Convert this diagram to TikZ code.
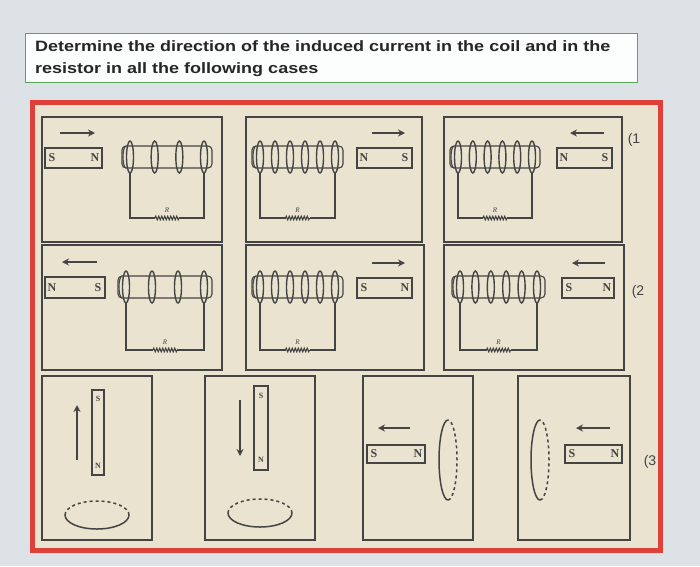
\documentclass[tikz,border=0pt]{standalone}
\usepackage{fontspec}
\setmainfont{Liberation Sans}
\newfontfamily\polefont{Liberation Serif}
\usetikzlibrary{decorations.pathmorphing,arrows.meta}
\definecolor{bg}{HTML}{DCE2E6}
\definecolor{paper}{HTML}{E9E3D0}
\definecolor{ink}{HTML}{444444}
\definecolor{frame}{HTML}{E0403A}
\tikzset{
 panel/.style={draw=ink,line width=1.4pt},
 mag/.style={draw=ink,line width=1.3pt,fill=paper},
 mv/.style={-{Stealth[length=7pt,width=7pt]},line width=2pt,draw=ink},
 wire/.style={draw=ink,line width=1.1pt},
 pole/.style={font=\polefont\bfseries\fontsize{12}{12}\selectfont,text=ink,inner sep=0pt},
 spole/.style={font=\polefont\bfseries\fontsize{8}{8}\selectfont,text=ink,inner sep=0pt},
}
% coil: x1,x2,ytop,ybot,n,ycircuit
\newcommand{\mycoil}[6]{%
 \draw[wire,fill=paper,rounded corners=4pt] (#1,#3) rectangle (#2,#4);
 \draw[wire] (#1+4,#4) arc[start angle=90,end angle=270,x radius=3,y radius={(#4-#3)/2}];
 \pgfmathsetmacro{\dx}{(#2-#1-16)/(#5-1)}
 \foreach \i in {1,...,#5}{
   \pgfmathsetmacro{\xx}{#1+8+(\i-1)*\dx}
   \draw[wire,line width=1.4pt] (\xx,{(#3+#4)/2}) ellipse[x radius=3.5,y radius={(#4-#3)/2+5}];
 }
 \draw[wire] (#1+8,#4+5) -- (#1+8,#6) -- ({(#1+#2)/2-12},#6);
 \draw[wire,decorate,decoration={zigzag,segment length=3pt,amplitude=1.8pt}] ({(#1+#2)/2-12},#6) -- ({(#1+#2)/2+12},#6);
 \draw[wire] ({(#1+#2)/2+12},#6) -- (#2-8,#6) -- (#2-8,#4+5);
 \node[font=\polefont\itshape\fontsize{7}{7}\selectfont,text=ink] at ({(#1+#2)/2},#6-8) {R};
}
% horizontal magnet: x1,x2,y1,y2,left label,right label
\newcommand{\hmag}[6]{%
 \draw[mag] (#1,#3) rectangle (#2,#4);
 \node[pole] at (#1+7,{(#3+#4)/2}) {#5};
 \node[pole] at (#2-7,{(#3+#4)/2}) {#6};
}
\begin{document}
\begin{tikzpicture}[x=1pt,y=-1pt]
\useasboundingbox (0,0) rectangle (700,566);
\fill[bg] (0,0) rectangle (700,566);
\draw[draw=gray!70!green,line width=1pt,fill=white!92!bg] (25,33) rectangle (637,82);
\node[anchor=west,font=\bfseries\fontsize{15}{22}\selectfont,text=black!85,inner sep=0pt] (title) at (35,58)
 {\scalebox{1.2}[1]{\begin{tabular}{@{}l@{}}Determine the direction of the induced current in the coil and in the\\resistor in all the following cases\end{tabular}}};
\draw[draw=frame,line width=5pt,fill=paper] (32,102) rectangle (660,550);
% panels
\foreach \a/\b/\c/\d in {42/117/222/242,246/117/422/242,444/117/622/242,42/245/222/370,246/245/424/370,444/245/624/370,42/376/152/540,205/376/315/540,363/376/473/540,518/376/630/540}
 \draw[panel] (\a,\b) rectangle (\c,\d);
\node[font=\fontsize{14}{14}\selectfont,text=ink] (l1) at (634,140) {(1};
\node[font=\fontsize{14}{14}\selectfont,text=ink] (l2) at (638,292) {(2};
\node[font=\fontsize{14}{14}\selectfont,text=ink] (l3) at (650,462) {(3};
% row 1
\hmag{45}{102}{148}{168}{S}{N}
\draw[mv] (60,133) -- (95,133);
\mycoil{122}{212}{146}{168}{4}{218}
\mycoil{252}{343}{146}{168}{6}{218}
\hmag{357}{412}{148}{168}{N}{S}
\draw[mv] (372,133) -- (405,133);
\mycoil{450}{540}{146}{168}{6}{218}
\hmag{557}{612}{148}{168}{N}{S}
\draw[mv] (604,133) -- (570,133);
% row 2
\hmag{45}{105}{277}{298}{N}{S}
\draw[mv] (97,262) -- (62,262);
\mycoil{118}{212}{276}{298}{4}{350}
\mycoil{252}{343}{276}{298}{6}{350}
\hmag{357}{412}{278}{298}{S}{N}
\draw[mv] (372,263) -- (405,263);
\mycoil{452}{545}{276}{298}{6}{350}
\hmag{562}{614}{278}{298}{S}{N}
\draw[mv] (605,263) -- (572,263);
% row 3
\draw[mag] (92,390) rectangle (104,475);
\node[spole] at (98,399) {S};
\node[spole] at (98,466) {N};
\draw[mv,line width=1.2pt] (77,460) -- (77,405);
\draw[wire,line width=1.5pt] (65,515) arc[start angle=180,end angle=0,x radius=32,y radius=14];
\draw[wire,line width=1.5pt,dashed] (65,515) arc[start angle=180,end angle=360,x radius=32,y radius=14];
\draw[mag] (254,386) rectangle (268,470);
\node[spole] at (261,396) {S};
\node[spole] at (261,460) {N};
\draw[mv,line width=1.2pt] (240,400) -- (240,456);
\draw[wire,line width=1.5pt] (228,513) arc[start angle=180,end angle=0,x radius=32,y radius=14];
\draw[wire,line width=1.5pt,dashed] (228,513) arc[start angle=180,end angle=360,x radius=32,y radius=14];
\hmag{367}{425}{445}{463}{S}{N}
\draw[mv] (410,428) -- (378,428);
\draw[wire,line width=1.5pt] (448,500) arc[start angle=90,end angle=270,x radius=9,y radius=40];
\draw[wire,line width=1.5pt,dashed] (448,500) arc[start angle=90,end angle=-90,x radius=9,y radius=40];
\draw[wire,line width=1.5pt] (540,500) arc[start angle=90,end angle=270,x radius=9,y radius=40];
\draw[wire,line width=1.5pt,dashed] (540,500) arc[start angle=90,end angle=-90,x radius=9,y radius=40];
\hmag{565}{622}{445}{463}{S}{N}
\draw[mv] (610,428) -- (576,428);
\end{tikzpicture}
\end{document}
